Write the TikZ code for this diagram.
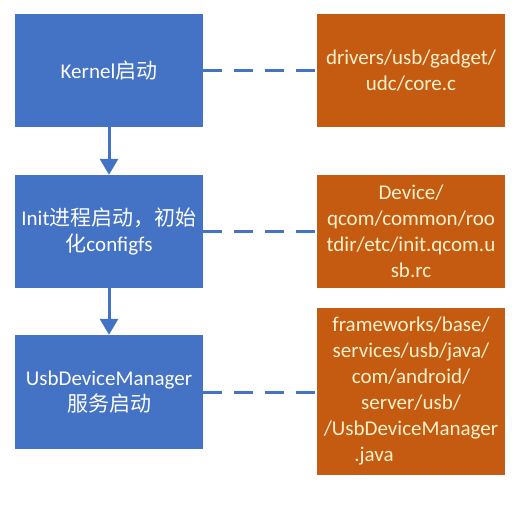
\documentclass[tikz,border=0pt]{standalone}
\usepackage{fontspec}
\setmainfont{Carlito}
\newfontfamily\cjk{Noto Sans CJK SC}
\usetikzlibrary{arrows.meta}
\definecolor{boxblue}{HTML}{4472C4}
\definecolor{boxorange}{HTML}{C55A11}
\definecolor{paleyellow}{HTML}{FFF2CC}
\begin{document}
\begin{tikzpicture}[x=1pt,y=1pt,
  stage/.style={fill=boxblue,text=white,minimum width=188pt,minimum height=113pt,
    align=center,inner sep=0pt,font=\fontsize{21}{26}\selectfont},
  srcfile/.style={stage,fill=boxorange,text=paleyellow},
  flow/.style={boxblue,line width=3pt,-{Triangle[width=18pt,length=16pt]}},
  link/.style={boxblue,line width=3pt,dash pattern=on 19pt off 12pt}]
\useasboundingbox (0,0) rectangle (526,525);
\node[stage] (kernel) at (109,454.5) {Kernel{\cjk 启动}};
\node[stage] (init) at (109,293.5) {Init{\cjk 进程启动，初始}\\{\cjk 化}configfs};
\node[stage,minimum height=114pt] (manager) at (109,133)
  {UsbDeviceManager\\{\cjk 服务启动}};
\node[srcfile] (corec) at (411,454.5) {drivers/usb/gadget/\\udc/core.c};
\node[srcfile] (initrc) at (411,293.5)
  {Device/\\qcom/common/roo\\tdir/etc/init.qcom.u\\sb.rc};
\node[srcfile,minimum height=167pt] (java) at (411,133.5)
  {frameworks/base/\\services/usb/java/\\com/android/\\server/usb/\\
   /UsbDeviceManager\\.java\hspace*{74pt}};
\draw[flow] (kernel) -- (init);
\draw[flow] (init) -- (manager);
\draw[link] (kernel) -- (corec);
\draw[link] (init) -- (initrc);
\draw[link] (manager.east) -- (manager.east -| java.west);
\end{tikzpicture}
\end{document}
